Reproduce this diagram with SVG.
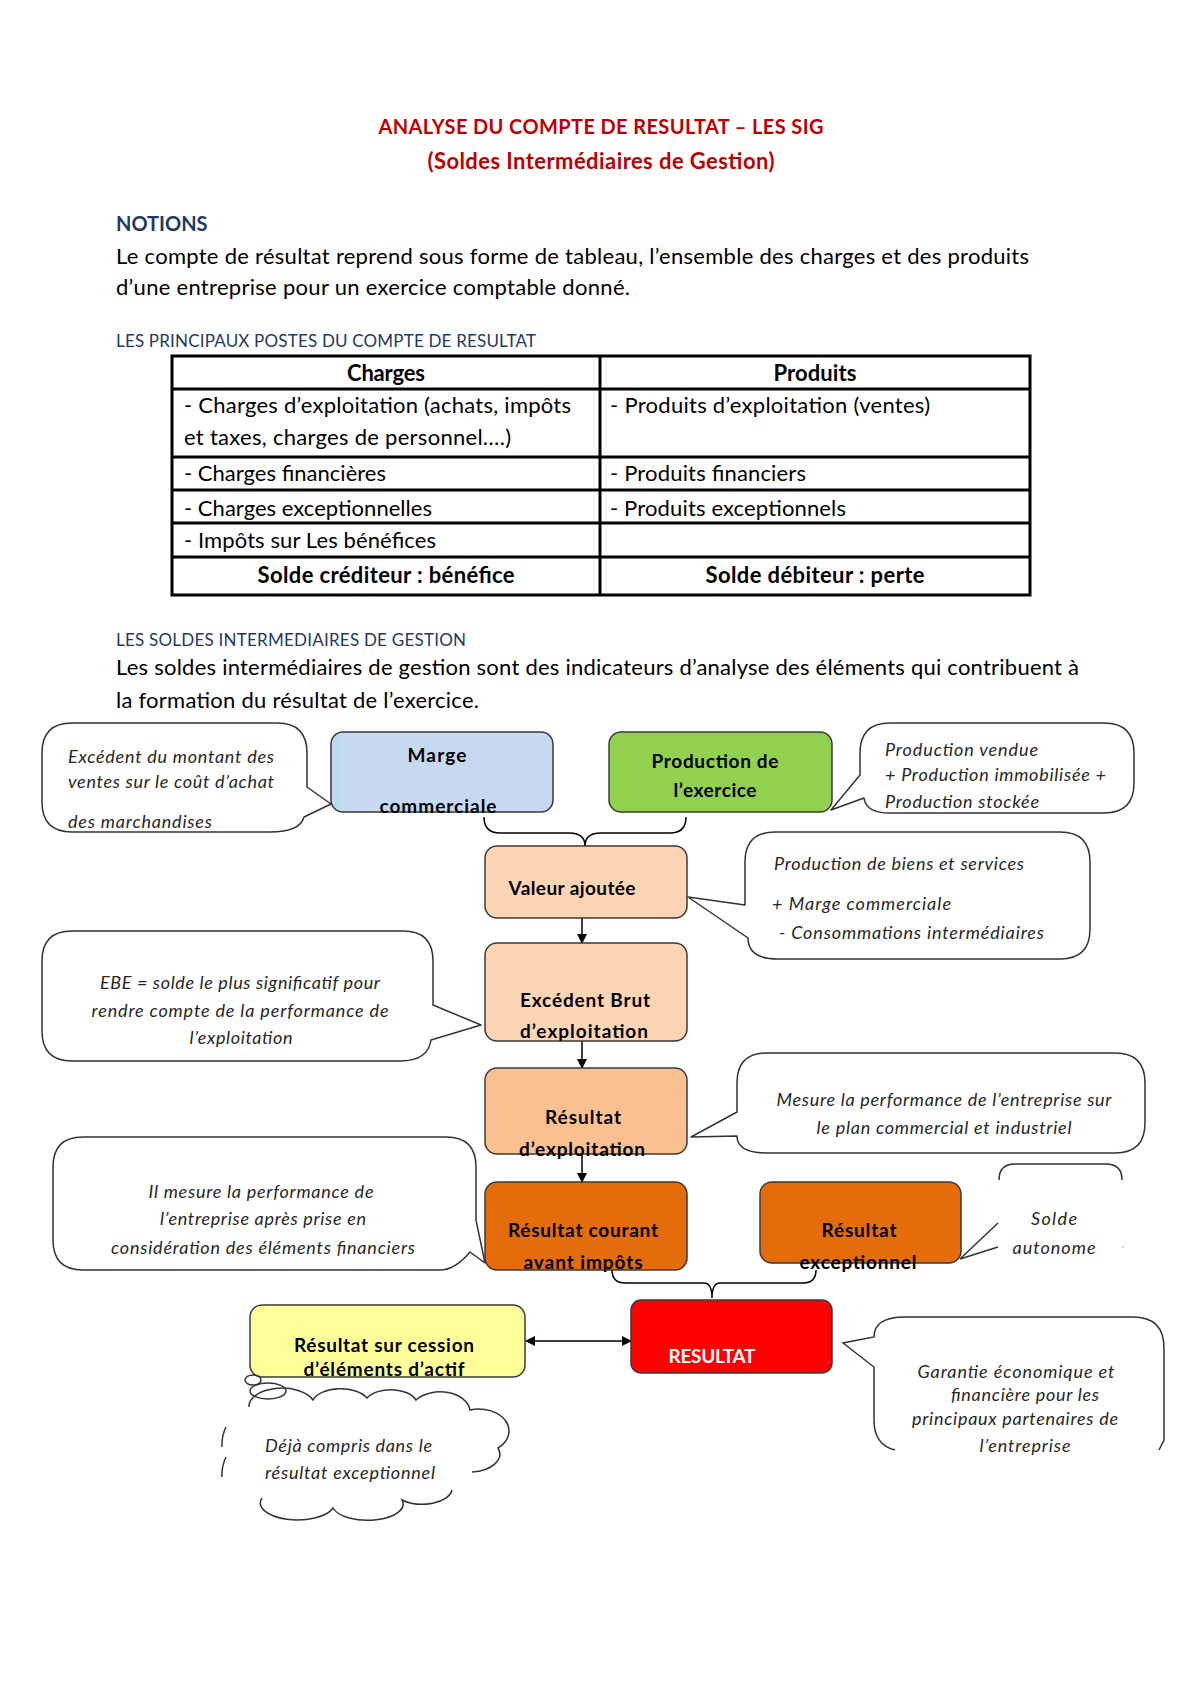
<svg xmlns="http://www.w3.org/2000/svg" width="1200" height="1698" viewBox="0 0 1200 1698">
<defs>
<marker id="ah" viewBox="0 0 10 10" refX="9" refY="5" markerWidth="10" markerHeight="10" markerUnits="userSpaceOnUse" orient="auto-start-reverse">
<path d="M0,0 L10,5 L0,10 Z" fill="#000"/>
</marker>
<style>
text{font-family:Lato,"Liberation Sans",sans-serif;}
.title{font-size:20px;font-weight:bold;fill:#C00000;text-anchor:middle;}
.h1{font-size:20px;font-weight:bold;fill:#1F3864;}
.h2{font-size:17px;fill:#1F3864;}
.p{font-size:22px;fill:#000;}
.t{font-size:22px;fill:#000;}
.tb{font-size:22px;fill:#000;font-weight:bold;text-anchor:middle;}
.n{font-size:19px;font-weight:bold;fill:#000;text-anchor:middle;}
.c{font-size:18px;font-style:italic;fill:#262626;}
.cm{font-size:18px;font-style:italic;fill:#262626;text-anchor:middle;}
.box{stroke:#3a3a3a;stroke-width:1.5;}
.call{fill:#fff;stroke:#333;stroke-width:1.5;stroke-linejoin:round;}
.open{fill:none;stroke:#333;stroke-width:1.5;}
.conn{fill:none;stroke:#000;stroke-width:1.5;}
.grid{fill:none;stroke:#000;stroke-width:3;}
</style>
</defs>
<rect width="1200" height="1698" fill="#fff"/>

<g id="header">
<text class="title" x="601" y="134" textLength="445">ANALYSE DU COMPTE DE RESULTAT – LES SIG</text>
<text class="title" x="601" y="169" style="font-size:22px" textLength="347">(Soldes Intermédiaires de Gestion)</text>
<text class="h1" x="116" y="231">NOTIONS</text>
<text class="p" x="116" y="264" textLength="913">Le compte de résultat reprend sous forme de tableau, l’ensemble des charges et des produits</text>
<text class="p" x="116" y="295" textLength="514">d’une entreprise pour un exercice comptable donné.</text>
<text class="h2" x="116" y="347" textLength="420">LES PRINCIPAUX POSTES DU COMPTE DE RESULTAT</text>
</g>

<g id="table">
<rect class="grid" x="172" y="356" width="858" height="239"/>
<path class="grid" d="M172,389 H1030 M172,457 H1030 M172,490 H1030 M172,523 H1030 M172,557 H1030 M600,356 V595"/>
<text class="tb" x="386" y="381" textLength="78">Charges</text>
<text class="tb" x="815" y="381" textLength="83">Produits</text>
<text class="t" x="184" y="413" textLength="387">- Charges d’exploitation (achats, impôts</text>
<text class="t" x="184" y="445" textLength="327">et taxes, charges de personnel….)</text>
<text class="t" x="610" y="413" textLength="320">- Produits d’exploitation (ventes)</text>
<text class="t" x="184" y="481" textLength="202">- Charges financières</text>
<text class="t" x="610" y="481" textLength="196">- Produits financiers</text>
<text class="t" x="184" y="516" textLength="248">- Charges exceptionnelles</text>
<text class="t" x="610" y="516" textLength="236">- Produits exceptionnels</text>
<text class="t" x="184" y="548" textLength="252">- Impôts sur Les bénéfices</text>
<text class="tb" x="386" y="583" textLength="257">Solde créditeur : bénéfice</text>
<text class="tb" x="815" y="583" textLength="219">Solde débiteur : perte</text>
</g>

<g id="sig-intro">
<text class="h2" x="116" y="646" textLength="350">LES SOLDES INTERMEDIAIRES DE GESTION</text>
<text class="p" x="116" y="675" textLength="963">Les soldes intermédiaires de gestion sont des indicateurs d’analyse des éléments qui contribuent à</text>
<text class="p" x="116" y="708" textLength="363">la formation du résultat de l’exercice.</text>
</g>

<g id="connectors">
<path class="conn" d="M484,817 Q484,833 500,833 H569 Q585,833 585,846 Q585,833 601,833 H670 Q686,833 686,817"/>
<path class="conn" d="M612,1270 Q612,1283 625,1283 H704 Q712,1283 712,1298 Q712,1283 720,1283 H803 Q816,1283 816,1270"/>
<line class="conn" x1="582" y1="918" x2="582" y2="943" marker-end="url(#ah)"/>
<line class="conn" x1="582" y1="1041" x2="582" y2="1068" marker-end="url(#ah)"/>
<line class="conn" x1="582" y1="1155" x2="582" y2="1182" marker-end="url(#ah)"/>
<line class="conn" x1="526" y1="1341" x2="631" y2="1341" marker-start="url(#ah)" marker-end="url(#ah)"/>
</g>

<g id="marge">
<rect class="box" x="331" y="732" width="222" height="80" rx="12" fill="#C6D9F1"/>
<rect x="335" y="736" width="6" height="72" fill="#B7DEE8"/>
<text class="n" x="437" y="762" textLength="59">Marge</text>
<text class="n" x="438" y="813" textLength="117">commerciale</text>
</g>

<g id="production">
<rect class="box" x="609" y="732" width="223" height="80" rx="12" fill="#92D050"/>
<text class="n" x="715" y="768" textLength="127">Production de</text>
<text class="n" x="715" y="797" textLength="83">l’exercice</text>
</g>

<g id="valeur-ajoutee">
<rect class="box" x="485" y="846" width="202" height="72" rx="12" fill="#FCD5B4"/>
<text class="n" x="572" y="895" textLength="127">Valeur ajoutée</text>
</g>

<g id="ebe">
<rect class="box" x="485" y="943" width="202" height="98" rx="12" fill="#FCD5B4"/>
<text class="n" x="585" y="1007" textLength="130">Excédent Brut</text>
<text class="n" x="584" y="1038" textLength="128">d’exploitation</text>
</g>

<g id="resultat-exploitation">
<rect class="box" x="485" y="1068" width="202" height="86" rx="12" fill="#FAC090"/>
<text class="n" x="583" y="1124" textLength="76">Résultat</text>
<text class="n" x="582" y="1156" textLength="126">d’exploitation</text>
</g>

<g id="rcai">
<rect class="box" x="485" y="1182" width="202" height="88" rx="12" fill="#E46C0A"/>
<text class="n" x="583" y="1237" textLength="150">Résultat courant</text>
<text class="n" x="583" y="1269" textLength="119">avant impôts</text>
</g>

<g id="resultat-exceptionnel">
<rect class="box" x="760" y="1182" width="201" height="81" rx="12" fill="#E46C0A"/>
<text class="n" x="859" y="1237" textLength="75">Résultat</text>
<text class="n" x="858" y="1269" textLength="117">exceptionnel</text>
</g>

<g id="resultat">
<rect class="box" x="631" y="1300" width="201" height="73" rx="10" fill="#FF0000"/>
<text class="n" x="712" y="1363" style="fill:#fff" textLength="87">RESULTAT</text>
</g>

<g id="cession">
<rect class="box" x="250" y="1305" width="275" height="72" rx="12" fill="#FFFF99"/>
<text class="n" x="384" y="1352" textLength="180">Résultat sur cession</text>
<text class="n" x="384" y="1376" textLength="161">d’éléments d’actif</text>
</g>

<g id="callout-marge">
<path class="call" d="M72,723 H277 Q307,723 307,753 V787 L331,804 L304,817 Q300,832 270,832 H72 Q42,832 42,802 V753 Q42,723 72,723 Z"/>
<text class="c" x="68" y="763" textLength="206">Excédent du montant des</text>
<text class="c" x="68" y="788" textLength="206">ventes sur le coût d’achat</text>
<text class="c" x="68" y="828" textLength="144">des marchandises</text>
</g>

<g id="callout-production">
<path class="call" d="M890,723 H1104 Q1134,723 1134,753 V783 Q1134,813 1104,813 H890 Q866,813 864,798 L831,810 L860,775 V753 Q860,723 890,723 Z"/>
<text class="c" x="885" y="756" textLength="153">Production vendue</text>
<text class="c" x="885" y="781" textLength="221">+ Production immobilisée +</text>
<text class="c" x="885" y="808" textLength="154">Production stockée</text>
</g>

<g id="callout-va">
<path class="call" d="M775,832 H1060 Q1090,832 1090,862 V929 Q1090,959 1060,959 H778 Q748,959 748,938 L688,897 L745,905 V862 Q745,832 775,832 Z"/>
<text class="c" x="774" y="870" textLength="250">Production de biens et services</text>
<text class="c" x="772" y="910" textLength="179">+ Marge commerciale</text>
<text class="c" x="779" y="939" textLength="265">- Consommations intermédiaires</text>
</g>

<g id="callout-ebe">
<path class="call" d="M72,931 H403 Q433,931 433,961 V1005 L481,1025 L431,1040 Q428,1061 400,1061 H72 Q42,1061 42,1031 V961 Q42,931 72,931 Z"/>
<text class="cm" x="240" y="989" textLength="280">EBE = solde le plus significatif pour</text>
<text class="cm" x="240" y="1017" textLength="297">rendre compte de la performance de</text>
<text class="cm" x="241" y="1044" textLength="103">l’exploitation</text>
</g>

<g id="callout-re">
<path class="call" d="M767,1053 H1115 Q1145,1053 1145,1083 V1123 Q1145,1153 1115,1153 H767 Q737,1153 737,1136 L691,1137 L737,1112 V1083 Q737,1053 767,1053 Z"/>
<text class="cm" x="944" y="1106" textLength="335">Mesure la performance de l’entreprise sur</text>
<text class="cm" x="944" y="1134" textLength="255">le plan commercial et industriel</text>
</g>

<g id="callout-rcai">
<path class="call" d="M83,1137 H446 Q476,1137 476,1167 V1220 L485,1263 L470,1252 Q455,1270 440,1270 H83 Q53,1270 53,1240 V1167 Q53,1137 83,1137 Z"/>
<text class="cm" x="261" y="1198" textLength="225">Il mesure la performance de</text>
<text class="cm" x="263" y="1225" textLength="206">l’entreprise après prise en</text>
<text class="cm" x="263" y="1254" textLength="304">considération des éléments financiers</text>
</g>

<g id="callout-solde">
<path class="open" d="M999,1180 Q999,1164 1015,1164 H1106 Q1122,1164 1122,1180"/>
<path class="open" d="M998,1223 L960,1259 L998,1247"/>
<circle cx="1123" cy="1247" r="0.8" fill="#999"/>
<text class="cm" x="1054" y="1225" textLength="46">Solde</text>
<text class="cm" x="1054" y="1254" textLength="83">autonome</text>
</g>

<g id="callout-resultat">
<path class="open" d="M895,1450 Q874,1445 874,1420 V1367 L843,1343 L874,1337 Q874,1317 905,1317 H1133 Q1164,1317 1164,1348 V1440 L1159,1450"/>
<text class="cm" x="1016" y="1378" textLength="197">Garantie économique et</text>
<text class="cm" x="1025" y="1401" textLength="148">financière pour les</text>
<text class="cm" x="1015" y="1425" textLength="206">principaux partenaires de</text>
<text class="cm" x="1025" y="1452" textLength="91">l’entreprise</text>
</g>

<g id="cloud-cession">
<ellipse class="open" cx="253" cy="1380" rx="8" ry="5"/>
<ellipse class="open" cx="268" cy="1391" rx="18" ry="8"/>
<path class="open" d="M249,1407 A33,18 0 0 1 313,1400 A29,16 0 0 1 367,1398 A27,16 0 0 1 416,1400 A30,20 0 0 1 470,1410 A30,22 0 0 1 498,1448 A30,18 0 0 1 472,1472 M452,1490 A30,16 0 0 1 402,1500 A35,16 0 0 1 333,1508 A35,16 0 0 1 262,1498 M226,1427 A20,30 0 0 0 222,1447 M226,1457 A20,30 0 0 0 222,1477"/>
<text class="c" x="265" y="1452" textLength="167">Déjà compris dans le</text>
<text class="c" x="265" y="1479" textLength="170">résultat exceptionnel</text>
</g>
</svg>
